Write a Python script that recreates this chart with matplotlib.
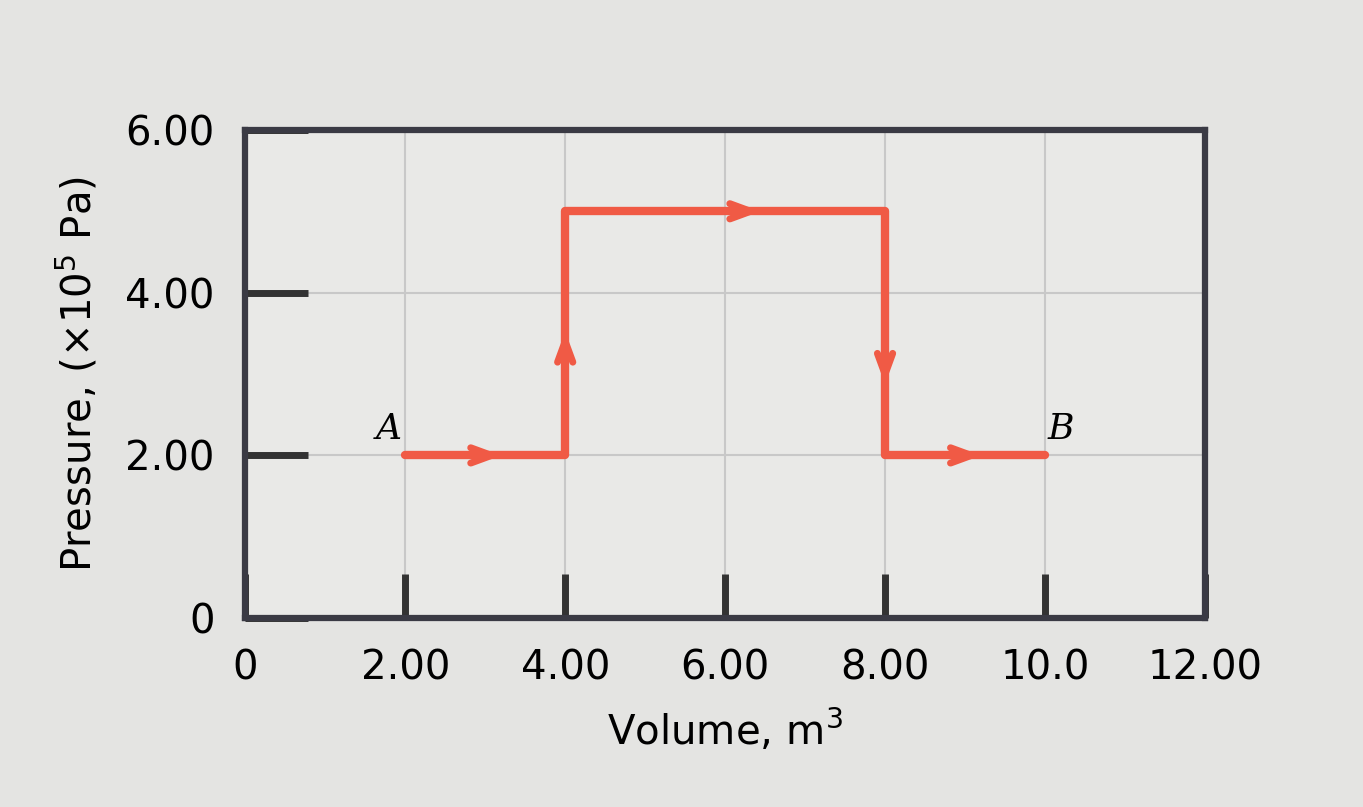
import matplotlib.pyplot as plt

volume = [2.0, 4.0, 4.0, 8.0, 8.0, 10.0]
pressure = [2.0, 2.0, 5.0, 5.0, 2.0, 2.0]
x_ticks = [0, 2, 4, 6, 8, 10, 12]
x_labels = ["0", "2.00", "4.00", "6.00", "8.00", "10.0", "12.00"]
y_ticks = [0, 2, 4, 6]
y_labels = ["0", "2.00", "4.00", "6.00"]
red = "#f05a45"

fig = plt.figure(figsize=(13.63, 8.07), dpi=100, facecolor="#e4e4e2")
ax = fig.add_axes([0.18, 0.234, 0.704, 0.605], facecolor="#e9e9e7")
ax.set_xlim(0, 12)
ax.set_ylim(0, 6)

for v in x_ticks[1:-1]:
    ax.axvline(v, color="#c8c8c8", lw=1.5, zorder=0)
for p in y_ticks[1:-1]:
    ax.axhline(p, color="#c8c8c8", lw=1.5, zorder=0)

ax.plot(volume, pressure, color=red, lw=6, solid_capstyle="round", zorder=3)

# arrow heads along each segment
for i in range(len(volume) - 1):
    x0, y0, x1, y1 = volume[i], pressure[i], volume[i + 1], pressure[i + 1]
    xm, ym = (x0 + x1) / 2, (y0 + y1) / 2
    if x0 == x1:
        ym = y0 + 0.6 * (y1 - y0) if y1 < y0 else y0 + 0.4 * (y1 - y0)
    dx, dy = (x1 - x0) * 0.12, (y1 - y0) * 0.12
    ax.annotate("", xy=(xm + dx, ym + dy), xytext=(xm - dx, ym - dy),
                arrowprops=dict(arrowstyle="->,head_length=1.5,head_width=0.55",
                                color=red, lw=5), zorder=4)

ax.text(volume[0] - 0.2, pressure[0] + 0.12, "A", fontsize=26, style="italic",
        family="DejaVu Serif", ha="center", va="bottom")
ax.text(volume[-1] + 0.2, pressure[-1] + 0.12, "B", fontsize=26, style="italic",
        family="DejaVu Serif", ha="center", va="bottom")

ax.set_xticks(x_ticks)
ax.set_xticklabels(x_labels, fontsize=29)
ax.set_yticks(y_ticks)
ax.set_yticklabels(y_labels, fontsize=29)
ax.tick_params(axis="x", direction="in", length=32, width=5, color="#333333", pad=22)
ax.tick_params(axis="y", direction="in", length=45, width=5, color="#333333", pad=22)
for s in ax.spines.values():
    s.set_linewidth(4.5)
    s.set_color("#3a3a44")

ax.set_xlabel("Volume, m$^3$", fontsize=29, labelpad=14)
ax.set_ylabel("Pressure, (×10$^5$ Pa)", fontsize=29, labelpad=18)

fig.savefig("out.png", dpi=100, facecolor=fig.get_facecolor())
